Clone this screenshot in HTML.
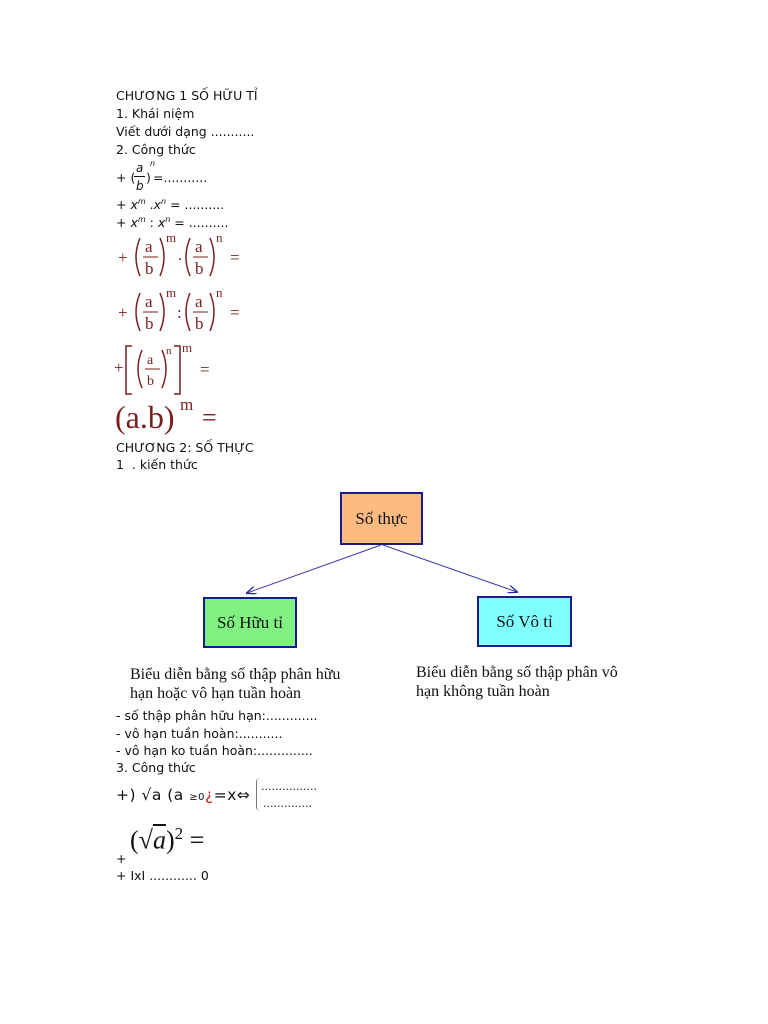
<!DOCTYPE html>
<html><head><meta charset="utf-8"><style>
body{margin:0;width:768px;height:1024px;background:#fff;position:relative;overflow:hidden;font-family:"DejaVu Sans","Liberation Sans",sans-serif;color:#111}
.t{position:absolute;font-size:12.5px;white-space:nowrap;line-height:1}
.m{position:absolute;font-family:"Liberation Serif",serif;color:#7a1f1f;white-space:nowrap;line-height:1}
.s{position:absolute;font-family:"Liberation Serif",serif;font-size:16px;white-space:nowrap;line-height:19px}
.box{position:absolute;border:2px solid #1a1a8c;box-sizing:border-box;font-family:"Liberation Serif",serif;font-size:17px;display:flex;align-items:center;justify-content:center}
</style></head><body>
<div class="t" style="left:116px;top:90px">CHƯƠNG 1 SỐ HỮU TỈ</div>
<div class="t" style="left:116px;top:108px">1. Khái niệm</div>
<div class="t" style="left:116px;top:126px">Viết dưới dạng ...........</div>
<div class="t" style="left:116px;top:144px">2. Công thức</div>
<div class="t" style="left:116px;top:172px">+ (</div>
<div class="t" style="left:136px;top:162px;font-style:italic;font-size:12px">a</div>
<div style="position:absolute;left:134px;top:176px;width:11px;border-top:1px solid #111"></div>
<div class="t" style="left:136px;top:180px;font-style:italic;font-size:12px">b</div>
<div class="t" style="left:146px;top:172px">)</div>
<div class="t" style="left:150px;top:160px;font-size:8px;font-style:italic">n</div>
<div class="t" style="left:153px;top:172px">=...........</div>
<div class="t" style="left:116px;top:198px">+ <i>x</i><sup style="font-size:8px"><i>m</i></sup> .<i>x</i><sup style="font-size:8px"><i>n</i></sup> = ..........</div>
<div class="t" style="left:116px;top:216px">+ <i>x</i><sup style="font-size:8px"><i>m</i></sup> : <i>x</i><sup style="font-size:8px"><i>n</i></sup> = ..........</div>
<svg style="position:absolute;left:110px;top:230px" width="200" height="210" font-family="Liberation Serif,serif" fill="#7a1f1f">
<g stroke="#7a1f1f" fill="none" stroke-width="1.5">
<path d="M30 8 Q22 27 30 46"/><path d="M50 8 Q58 27 50 46"/>
<path d="M80 8 Q72 27 80 46"/><path d="M100 8 Q108 27 100 46"/>
<path d="M30 63 Q22 82 30 101"/><path d="M50 63 Q58 82 50 101"/>
<path d="M80 63 Q72 82 80 101"/><path d="M100 63 Q108 82 100 101"/>
<path d="M32 120 Q24 139 32 158"/><path d="M52 120 Q60 139 52 158"/>
<path d="M22 116 H16 V164 H22"/><path d="M64 116 H70 V164 H64"/>
<line x1="33" y1="27" x2="48" y2="27" stroke-width="1"/><line x1="83" y1="27" x2="98" y2="27" stroke-width="1"/>
<line x1="33" y1="82" x2="48" y2="82" stroke-width="1"/><line x1="83" y1="82" x2="98" y2="82" stroke-width="1"/>
<line x1="35" y1="139" x2="50" y2="139" stroke-width="1"/>
</g>
<g font-size="17">
<text x="8" y="33">+</text><text x="35" y="22">a</text><text x="35" y="44">b</text><text x="85" y="22">a</text><text x="85" y="44">b</text>
<text x="56" y="12" font-size="13">m</text><text x="68" y="30">.</text><text x="106" y="12" font-size="13">n</text><text x="120" y="33">=</text>
<text x="8" y="88">+</text><text x="35" y="77">a</text><text x="35" y="99">b</text><text x="85" y="77">a</text><text x="85" y="99">b</text>
<text x="56" y="67" font-size="13">m</text><text x="67" y="88">:</text><text x="106" y="67" font-size="13">n</text><text x="120" y="88">=</text>
<text x="4" y="143">+</text><text x="37" y="134" font-size="14">a</text><text x="37" y="155" font-size="14">b</text>
<text x="56" y="124" font-size="11">n</text><text x="72" y="122" font-size="13">m</text><text x="90" y="145">=</text>
<text x="5" y="198" font-size="32">(a.b)</text><text x="70" y="180" font-size="17">m</text><text x="92" y="196" font-size="26">=</text>
</g></svg>
<div class="t" style="left:116px;top:442px">CHƯƠNG 2: SỐ THỰC</div>
<div class="t" style="left:116px;top:459px">1&nbsp; . kiến thức</div>
<svg style="position:absolute;left:0;top:0" width="768" height="700">
<defs><marker id="a" markerWidth="10" markerHeight="8" refX="9" refY="4" orient="auto" markerUnits="userSpaceOnUse"><path d="M0 0 L10 4 L0 8" fill="none" stroke="#2a2a9a" stroke-width="1.3"/></marker></defs>
<line x1="381" y1="545" x2="247" y2="593" stroke="#3a3aaa" stroke-width="1" marker-end="url(#a)"/>
<line x1="383" y1="545" x2="517" y2="592" stroke="#3a3aaa" stroke-width="1" marker-end="url(#a)"/>
</svg>
<div class="box" style="left:340px;top:492px;width:83px;height:53px;background:#fdbb80">Số thực</div>
<div class="box" style="left:203px;top:597px;width:94px;height:51px;background:#80f080">Số Hữu tỉ</div>
<div class="box" style="left:477px;top:596px;width:95px;height:51px;background:#80ffff">Số Vô tỉ</div>
<div class="s" style="left:130px;top:665px">Biểu diễn bằng số thập phân hữu<br>hạn hoặc vô hạn tuần hoàn</div>
<div class="s" style="left:416px;top:663px">Biểu diễn bằng số thập phân vô<br>hạn không tuần hoàn</div>
<div class="t" style="left:116px;top:710px">- số thập phân hữu hạn:.............</div>
<div class="t" style="left:116px;top:728px">- vô hạn tuần hoàn:...........</div>
<div class="t" style="left:116px;top:745px">- vô hạn ko tuần hoàn:..............</div>
<div class="t" style="left:116px;top:762px">3. Công thức</div>
<div class="t" style="left:116px;top:788px;font-size:15.5px;letter-spacing:0.5px">+) √a (a <span style="font-size:10px">≥0</span><span style="color:#c02020">¿</span>=x⇔</div>
<div style="position:absolute;left:256px;top:778px;width:4px;height:33px;border-left:1px solid #777;border-radius:4px 0 0 4px"></div>
<div class="t" style="left:261px;top:781px;font-size:11px">................</div>
<div class="t" style="left:263px;top:798px;font-size:11px">..............</div>
<div class="t" style="left:116px;top:853px">+</div>
<div class="m" style="left:130px;top:825px;color:#111;font-size:26px">(√<span style="text-decoration:overline;font-style:italic">a</span>)<sup style="font-size:17px">2</sup> =</div>
<div class="t" style="left:116px;top:870px">+ IxI ............ 0</div>
</body></html>
